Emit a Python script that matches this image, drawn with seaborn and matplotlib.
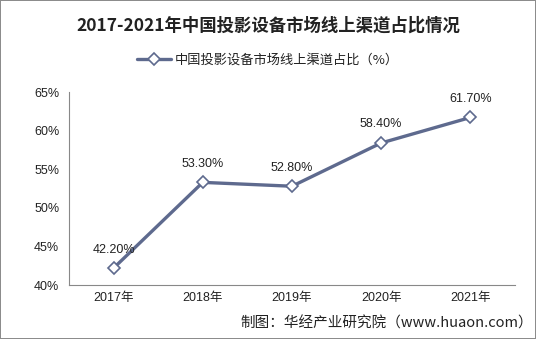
import matplotlib
matplotlib.use("Agg")
import matplotlib.pyplot as plt
import seaborn as sns
import pandas as pd
from matplotlib.ticker import FixedLocator, FuncFormatter

years = ["2017年", "2018年", "2019年", "2020年", "2021年"]
share = [42.2, 53.3, 52.8, 58.4, 61.7]
series_name = "中国投影设备市场线上渠道占比（%）"
title = "2017-2021年中国投影设备市场线上渠道占比情况"
source = "制图：华经产业研究院（www.huaon.com）"

sns.set_theme(style="white")
plt.rcParams["font.family"] = ["Liberation Sans", "Noto Sans CJK SC", "DejaVu Sans"]

df = pd.DataFrame({"year": years, "share": share})
line_color = "#5E6A8E"
text_color = "#222222"

fig = plt.figure(figsize=(5.36, 3.39), dpi=100, facecolor="white",
                 edgecolor="#8c8c8c", linewidth=1.2)
ax = fig.add_axes([0.1287, 0.159, 0.832, 0.5696])

sns.lineplot(data=df, x="year", y="share", ax=ax, color=line_color,
             linewidth=2.4, marker="D", markersize=6,
             markerfacecolor="white", markeredgecolor=line_color,
             markeredgewidth=1.2, label=series_name, sort=False)

for i, v in enumerate(share):
    ax.annotate(f"{v:.2f}%", (i, v), xytext=(0, 9), textcoords="offset points",
                ha="center", va="bottom", fontsize=9, color=text_color)

ax.set_ylim(40, 65)
ax.set_xlim(-0.5, 4.5)
ax.yaxis.set_major_locator(FixedLocator([40, 45, 50, 55, 60, 65]))
ax.yaxis.set_major_formatter(FuncFormatter(lambda v, p: f"{v:.0f}%"))
ax.set_xticks(range(len(years)))
ax.set_xticklabels(years)
ax.xaxis.set_minor_locator(FixedLocator([-0.5, 0.5, 1.5, 2.5, 3.5, 4.5]))
ax.tick_params(axis="x", which="major", length=0, pad=5, labelsize=9, colors=text_color)
ax.tick_params(axis="x", which="minor", length=4, color="#888888", width=0.8)
ax.tick_params(axis="y", which="major", length=4, color="#888888", width=0.8,
               labelsize=9, colors=text_color, pad=3)
ax.set_xlabel("")
ax.set_ylabel("")
for side in ["top", "right"]:
    ax.spines[side].set_visible(False)
for side in ["left", "bottom"]:
    ax.spines[side].set_color("#888888")
    ax.spines[side].set_linewidth(0.8)

leg = ax.legend(loc="center", bbox_to_anchor=(0.5, 0.823), bbox_transform=fig.transFigure,
                frameon=False, fontsize=9.5, handlelength=2.6, handletextpad=0.3,
                prop={"family": ["Noto Sans CJK SC", "DejaVu Sans"], "size": 9.5})
for t in leg.get_texts():
    t.set_color(text_color)

fig.text(0.5, 0.925, title, ha="center", va="center", fontsize=12.5,
         fontweight="bold", color=text_color,
         family=["Noto Sans CJK SC", "DejaVu Sans"])
fig.text(0.722, 0.047, source, ha="center", va="center", fontsize=10.5,
         color=text_color, family=["Noto Sans CJK SC", "DejaVu Sans"])

fig.savefig("out.png", dpi=100, facecolor="white", edgecolor=fig.get_edgecolor())
